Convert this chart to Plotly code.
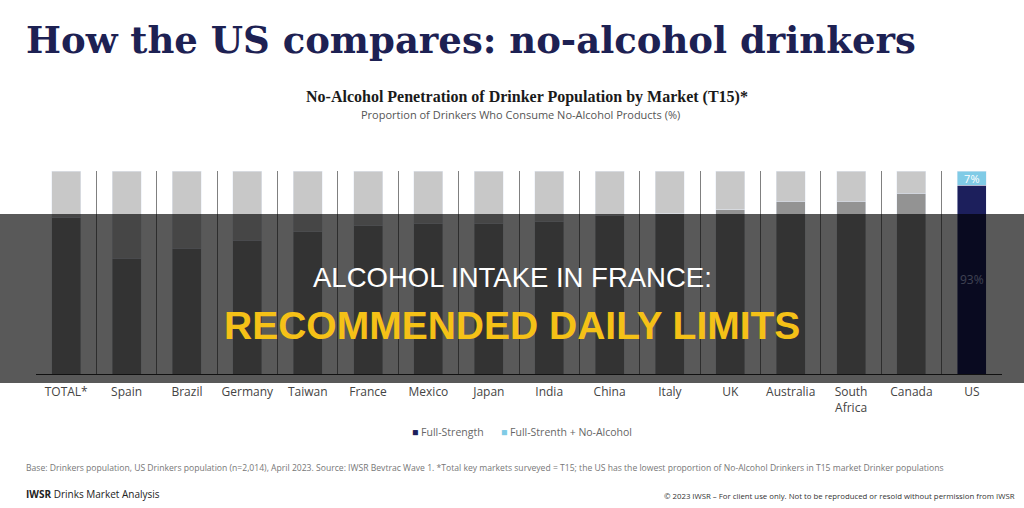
import plotly.graph_objects as go

# ---------------- data ----------------
categories = ["TOTAL*", "Spain", "Brazil", "Germany", "Taiwan", "France", "Mexico", "Japan",
              "India", "China", "Italy", "UK", "Australia", "South<br>Africa", "Canada", "US"]
full_strength = [77, 57, 62, 66, 70, 73, 74, 74, 75, 78, 79, 81, 85, 85, 89, 93]
no_alcohol = [23, 43, 38, 34, 30, 27, 26, 26, 25, 22, 21, 19, 15, 15, 11, 7]
highlight = "US"
legend_names = ["Full-Strength", "Full-Strenth + No-Alcohol"]
legend_colors = ["#1c1f5c", "#80cbe6"]

# ---------------- geometry helpers ----------------
W_FIG, H_FIG = 1024, 508
L, R, T, B = 36, 22, 171, 134
PW = W_FIG - L - R
PH = H_FIG - T - B


def px(x):
    return (x - L) / PW


def py(y):
    return (H_FIG - B - y) / PH


grey_cats = [c for c in categories if c != highlight]
grey_full = [v for c, v in zip(categories, full_strength) if c != highlight]
grey_na = [v for c, v in zip(categories, no_alcohol) if c != highlight]
us_full = [v for c, v in zip(categories, full_strength) if c == highlight]
us_na = [v for c, v in zip(categories, no_alcohol) if c == highlight]

BW = 0.48
fig = go.Figure()
fig.add_trace(go.Bar(x=grey_cats, y=grey_full, marker_color="#939393", width=BW,
                     showlegend=False, hoverinfo="skip"))
fig.add_trace(go.Bar(x=grey_cats, y=grey_na, marker_color="#c8c8c8", width=BW,
                     showlegend=False, hoverinfo="skip"))
fig.add_trace(go.Bar(x=[highlight], y=us_full, name=legend_names[0], marker_color=legend_colors[0],
                     width=BW, text=[f"{v}%" for v in us_full], textposition="inside", textangle=0,
                     insidetextanchor="middle", constraintext="none", showlegend=False,
                     textfont=dict(family="Open Sans", size=12, color="#b4bce6")))
fig.add_trace(go.Bar(x=[highlight], y=us_na, name=legend_names[1], marker_color=legend_colors[1],
                     width=BW, text=[f"{v}%" for v in us_na], textposition="inside", textangle=0,
                     insidetextanchor="middle", constraintext="none", showlegend=False,
                     textfont=dict(family="Open Sans", size=11, color="#ffffff")))

fig.update_layout(
    width=W_FIG, height=H_FIG, autosize=False,
    margin=dict(l=L, r=R, t=T, b=B),
    paper_bgcolor="white", plot_bgcolor="white",
    barmode="stack",
    font=dict(family="Open Sans", color="#444"),
    xaxis=dict(categoryorder="array", categoryarray=categories, range=[-0.5, len(categories) - 0.5],
               tickson="boundaries", showgrid=True, gridcolor="#808080", gridwidth=1,
               showline=True, linecolor="#333", linewidth=1, ticks="", ticklen=0, tickangle=0,
               ticklabelstandoff=7,
               tickfont=dict(family="Open Sans", size=12, color="#444"), fixedrange=True),
    yaxis=dict(range=[0, 100], showgrid=False, showticklabels=False, zeroline=False,
               showline=False, fixedrange=True),
    showlegend=False,
)

shapes = [dict(type="rect", xref="paper", yref="paper", x0=px(-5), x1=px(W_FIG + 5),
               y0=py(383), y1=py(214), fillcolor="rgba(0,0,0,0.65)", line=dict(width=0),
               layer="above")]
fig.update_layout(shapes=shapes)

annotations = [
    dict(text="How the US compares: no-alcohol drinkers", x=px(24), y=py(40), xanchor="left",
         yanchor="middle", font=dict(family="DejaVu Serif", size=37, color="#1d2153", weight="bold")),
    dict(text="No-Alcohol Penetration of Drinker Population by Market (T15)*", x=px(527), y=py(97),
         xanchor="center", yanchor="middle",
         font=dict(family="Liberation Serif", size=16, color="#1a1a1a", weight="bold")),
    dict(text="Proportion of Drinkers Who Consume No-Alcohol Products (%)", x=px(520), y=py(115),
         xanchor="center", yanchor="middle", font=dict(family="Open Sans", size=11, color="#555")),
    dict(text="ALCOHOL INTAKE IN FRANCE:", x=px(512), y=py(277), xanchor="center", yanchor="middle",
         font=dict(family="Liberation Sans", size=27.5, color="#ffffff")),
    dict(text="RECOMMENDED DAILY LIMITS", x=px(512), y=py(325), xanchor="center", yanchor="middle",
         font=dict(family="Liberation Sans", size=39, color="#f5c117", weight="bold")),
    dict(text="Base: Drinkers population, US Drinkers population (n=2,014), April 2023. Source: IWSR Bevtrac Wave 1. "
              "*Total key markets surveyed = T15; the US has the lowest proportion of No-Alcohol Drinkers in T15 market Drinker populations",
         x=px(24), y=py(468), xanchor="left", yanchor="middle",
         font=dict(family="Open Sans", size=8.6, color="#777")),
    dict(text="<b>IWSR</b> Drinks Market Analysis", x=px(24), y=py(494), xanchor="left", yanchor="middle",
         font=dict(family="Open Sans", size=10, color="#222")),
    dict(text="© 2023 IWSR – For client use only. Not to be reproduced or resold without permission from IWSR",
         x=px(1017), y=py(496), xanchor="right", yanchor="middle",
         font=dict(family="Open Sans", size=7.8, color="#333")),
]
# manual legend
legend_x = [410, 499]
for name, col, lx in zip(legend_names, legend_colors, legend_x):
    annotations.append(dict(text=f"<span style='color:{col}'>■</span> {name}", x=px(lx), y=py(432),
                            xanchor="left", yanchor="middle",
                            font=dict(family="Open Sans", size=10.5, color="#666")))
for a in annotations:
    a.update(xref="paper", yref="paper", showarrow=False)
fig.update_layout(annotations=annotations)

fig.write_html("out.html")
